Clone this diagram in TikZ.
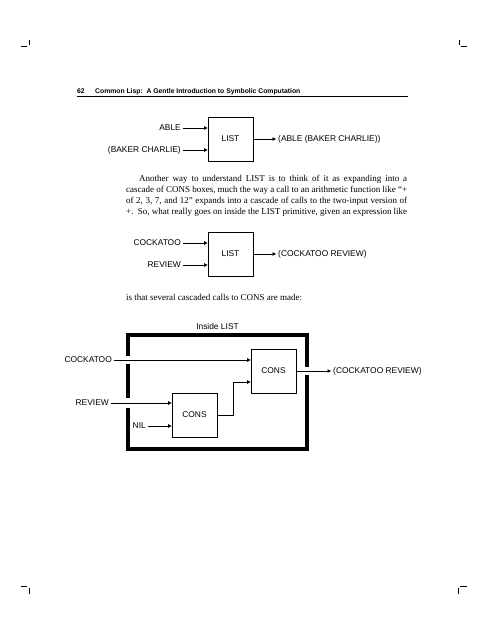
\documentclass[tikz,border=0pt]{standalone}
\usepackage{fontspec}
\setmainfont{Liberation Serif}
\setsansfont{Liberation Sans}
\usetikzlibrary{arrows.meta}
\newcommand{\lblfont}{\sffamily\fontsize{8.4}{10}\selectfont}
\newcommand{\bodyfont}{\rmfamily\fontsize{9}{11}\selectfont}

\begin{document}
\begin{tikzpicture}[x=1pt,y=-1pt,
 box/.style={draw,line width=0.8pt,minimum width=45pt,minimum height=44pt,inner sep=0pt,font=\lblfont},
 tag/.style={font=\lblfont,inner sep=2pt},
 feed/.style={line width=0.8pt,-{Triangle[length=3.5pt,width=3.5pt]}},
 wall/.style={line width=4pt},
 crop/.style={line width=0.7pt}]
 \useasboundingbox (0,0) rectangle (495,640);
 % crop marks
 \draw[crop] (21,46)--(27,46) (29,40)--(29,45);
 \draw[crop] (461,46)--(467,46) (459,40)--(459,45);
 \draw[crop] (21,586)--(27,586) (29,588)--(29,594);
 \draw[crop] (460,586)--(467,586) (458,588)--(458,594);
 % running head
 \node[anchor=base west,inner sep=0pt,font=\sffamily\bfseries\fontsize{6.8}{8}\selectfont] (pnum) at (77,93){62};
 \node[anchor=base west,inner sep=0pt,font=\sffamily\bfseries\fontsize{6.8}{8}\selectfont] (htitle) at (95,93)
 {Common Lisp:\ \ A Gentle Introduction to Symbolic Computation};
 \draw[line width=0.6pt] (77,96)--(408,96);
 % first LIST box
 \node[box] (list1) at (230.5,139){LIST};
 \node[tag,anchor=east] (able) at (183,128){ABLE};
 \node[tag,anchor=east] (baker) at (183,150){(BAKER CHARLIE)};
 \node[tag,anchor=west] (res1) at (276,139){(ABLE (BAKER CHARLIE))};
 \draw[feed] (able)--(able-|list1.west);
 \draw[feed] (baker)--(baker-|list1.west);
 \draw[feed] (list1)--(res1);
 % paragraph
 \node[anchor=base west,inner sep=0pt] (para) at (126,181){\parbox[t]{281pt}{\bodyfont
 \hspace*{13pt}Another way to understand LIST is to think of it as expanding into a\linebreak
 cascade of CONS boxes, much the way a call to an arithmetic function like ``+\linebreak
 of 2, 3, 7, and 12'' expands into a cascade of calls to the two-input version of\linebreak
 +.\ \ So, what really goes on inside the LIST primitive, given an expression like\parfillskip=0pt}};
 % second LIST box
 \node[box] (list2) at (230.5,254){LIST};
 \node[tag,anchor=east] (cock2) at (183,243){COCKATOO};
 \node[tag,anchor=east] (rev2) at (183,265){REVIEW};
 \node[tag,anchor=west] (res2) at (276,254){(COCKATOO REVIEW)};
 \draw[feed] (cock2)--(cock2-|list2.west);
 \draw[feed] (rev2)--(rev2-|list2.west);
 \draw[feed] (list2)--(res2);
 \node[anchor=base west,inner sep=0pt,font=\bodyfont] (made) at (126,300){is that several cascaded calls to CONS are made:};
 % inside LIST
 \node[font=\lblfont] (inside) at (217.5,326){Inside LIST};
 \draw[wall] (128,356)--(128,335)--(307,335)--(307,367);
 \draw[wall] (307,375)--(307,449)--(128,449)--(128,408);
 \draw[wall] (128,398)--(128,364);
 \node[box] (consA) at (273.5,371){CONS};
 \node[box] (consB) at (194.5,415){CONS};
 \node[tag,anchor=east] (cock3) at (114,360){COCKATOO};
 \node[tag,anchor=east] (rev3) at (111,403){REVIEW};
 \node[tag,anchor=east] (nil) at (148,426){NIL};
 \node[tag,anchor=west] (res3) at (331,371){(COCKATOO REVIEW)};
 \draw[feed] (cock3)--(cock3-|consA.west);
 \draw[feed] (rev3)--(rev3-|consB.west);
 \draw[feed] (nil)--(nil-|consB.west);
 \draw[feed] (consB.east)-|(233,382)--(consA.west|-0,382);
 \draw[feed] (consA)--(res3);
\end{tikzpicture}
\end{document}
